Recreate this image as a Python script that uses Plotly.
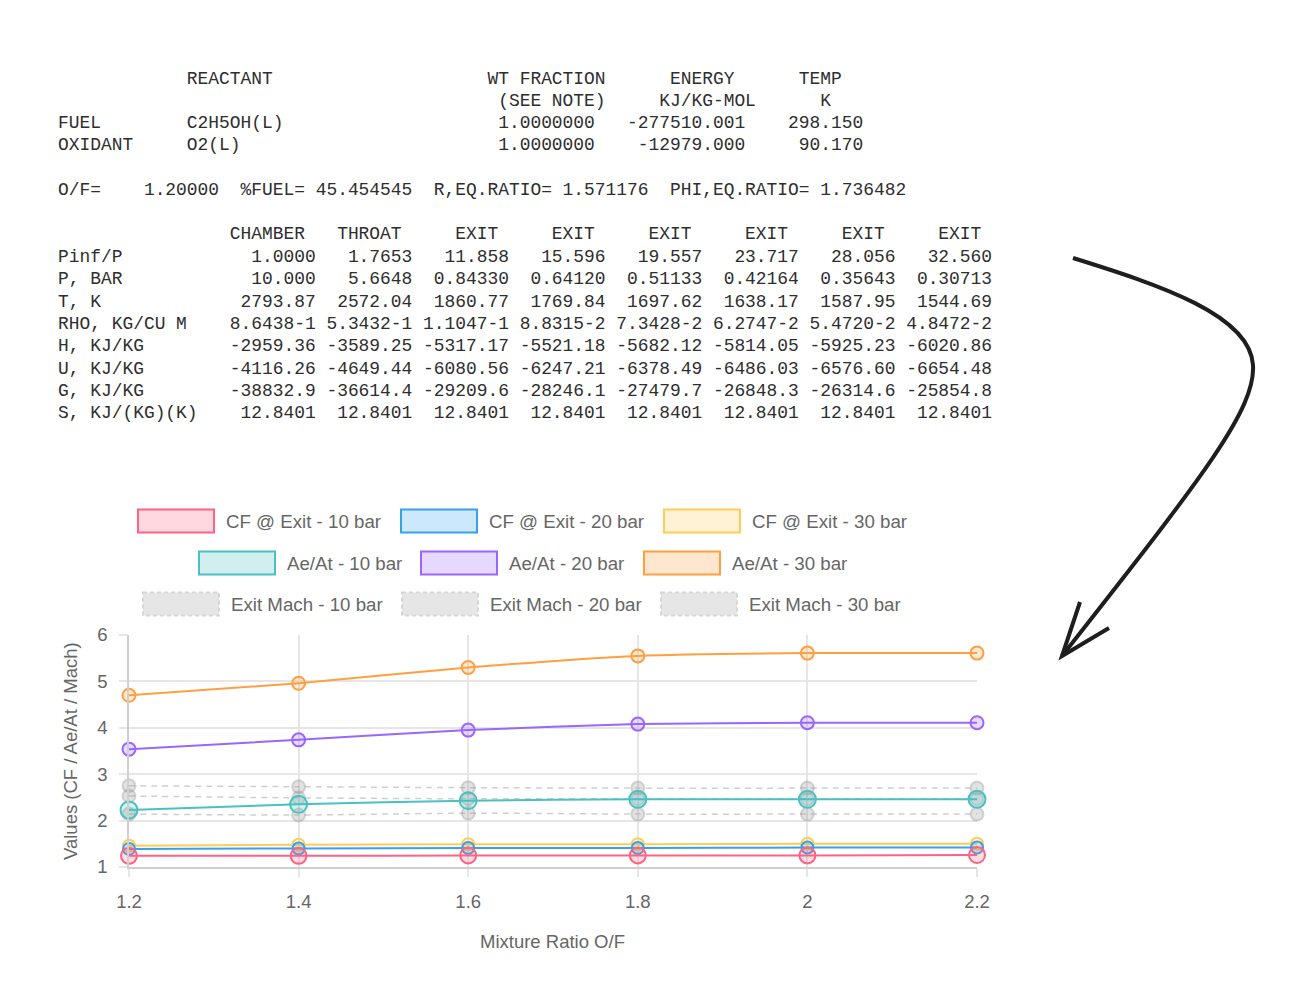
import plotly.graph_objects as go

# ---------------- text block (CEA output) ----------------
reactant_roles = ["FUEL", "OXIDANT"]
reactant_names = ["C2H5OH(L)", "O2(L)"]
wt_fractions = ["1.0000000", "1.0000000"]
energies = ["-277510.001", "-12979.000"]
temps = ["298.150", "90.170"]

of_labels = ["O/F=", "%FUEL=", "R,EQ.RATIO=", "PHI,EQ.RATIO="]
of_values = ["1.20000", "45.454545", "1.571176", "1.736482"]

table_columns = ["CHAMBER", "THROAT", "EXIT", "EXIT", "EXIT", "EXIT", "EXIT", "EXIT"]
row_pinf_p = ["1.0000", "1.7653", "11.858", "15.596", "19.557", "23.717", "28.056", "32.560"]
row_p_bar = ["10.000", "5.6648", "0.84330", "0.64120", "0.51133", "0.42164", "0.35643", "0.30713"]
row_t_k = ["2793.87", "2572.04", "1860.77", "1769.84", "1697.62", "1638.17", "1587.95", "1544.69"]
row_rho = ["8.6438-1", "5.3432-1", "1.1047-1", "8.8315-2", "7.3428-2", "6.2747-2", "5.4720-2", "4.8472-2"]
row_h = ["-2959.36", "-3589.25", "-5317.17", "-5521.18", "-5682.12", "-5814.05", "-5925.23", "-6020.86"]
row_u = ["-4116.26", "-4649.44", "-6080.56", "-6247.21", "-6378.49", "-6486.03", "-6576.60", "-6654.48"]
row_g = ["-38832.9", "-36614.4", "-29209.6", "-28246.1", "-27479.7", "-26848.3", "-26314.6", "-25854.8"]
row_s = ["12.8401", "12.8401", "12.8401", "12.8401", "12.8401", "12.8401", "12.8401", "12.8401"]
table_row_labels = ["Pinf/P", "P, BAR", "T, K", "RHO, KG/CU M", "H, KJ/KG", "U, KJ/KG", "G, KJ/KG", "S, KJ/(KG)(K)"]
table_rows = [row_pinf_p, row_p_bar, row_t_k, row_rho, row_h, row_u, row_g, row_s]

# ---------------- chart data ----------------
mixture_ratio = [1.2, 1.4, 1.6, 1.8, 2.0, 2.2]
x_tick_text = ["1.2", "1.4", "1.6", "1.8", "2", "2.2"]

cf_exit_10 = [1.24, 1.24, 1.25, 1.25, 1.25, 1.26]
cf_exit_20 = [1.39, 1.40, 1.41, 1.41, 1.42, 1.42]
cf_exit_30 = [1.46, 1.48, 1.49, 1.49, 1.50, 1.50]
ae_at_10 = [2.23, 2.35, 2.43, 2.46, 2.46, 2.46]
ae_at_20 = [3.54, 3.74, 3.95, 4.08, 4.11, 4.11]
ae_at_30 = [4.70, 4.96, 5.30, 5.55, 5.61, 5.61]
mach_10 = [2.14, 2.12, 2.16, 2.14, 2.14, 2.14]
mach_20 = [2.53, 2.49, 2.47, 2.47, 2.47, 2.47]
mach_30 = [2.75, 2.73, 2.71, 2.70, 2.70, 2.70]

series_names = ["CF @ Exit - 10 bar", "CF @ Exit - 20 bar", "CF @ Exit - 30 bar",
                "Ae/At - 10 bar", "Ae/At - 20 bar", "Ae/At - 30 bar",
                "Exit Mach - 10 bar", "Exit Mach - 20 bar", "Exit Mach - 30 bar"]
series_values = [cf_exit_10, cf_exit_20, cf_exit_30, ae_at_10, ae_at_20, ae_at_30,
                 mach_10, mach_20, mach_30]

# ---------------- styles ----------------
line_colors = ["#FF6384", "#36A2EB", "#FFCD56", "#4BC0C0", "#9966FF", "#FF9F40",
               "#CFCFCF", "#CFCFCF", "#CFCFCF"]
fill_colors = ["rgba(255,99,132,0.22)", "rgba(54,162,235,0.22)", "rgba(255,205,86,0.22)",
               "rgba(75,192,192,0.22)", "rgba(153,102,255,0.22)", "rgba(255,159,64,0.22)",
               "rgba(150,150,150,0.28)", "rgba(150,150,150,0.28)", "rgba(150,150,150,0.28)"]
marker_lines = line_colors[:6] + ["rgba(150,150,150,0.35)"] * 3
marker_sizes = [16, 12, 12, 17, 13, 13, 13, 13, 13]

W, H = 1273, 982
ML, MR, MT, MB = 121, 304, 627, 123
PW, PH = W - ML - MR, H - MT - MB


def px(X):
    return (X - 8 - ML) / PW


def py(Y):
    return 1 - (Y - 8 - MT) / PH


fig = go.Figure()

draw_order = [6, 7, 8, 5, 4, 3, 2, 1, 0]
for i in draw_order:
    is_mach = i >= 6
    fig.add_trace(go.Scatter(
        x=mixture_ratio, y=series_values[i], name=series_names[i],
        mode="lines+markers",
        line=dict(color=line_colors[i], width=1.5 if is_mach else 2,
                  dash="6px,5px" if is_mach else "solid",
                  shape="spline", smoothing=0.6),
        marker=dict(size=marker_sizes[i], color=fill_colors[i],
                    line=dict(color=marker_lines[i], width=2)),
        cliponaxis=False, showlegend=False,
    ))

annotations = []
shapes = []

# ---- monospace text block ----
def place(items, width=90):
    chars = [" "] * width
    for col, txt in items:
        for k, ch in enumerate(txt):
            chars[col + k] = ch
    return "".join(chars).rstrip()


text_lines = []
text_lines.append((79, place([(12, "REACTANT"), (40, "WT FRACTION"), (57, "ENERGY"), (69, "TEMP")])))
text_lines.append((101, place([(41, "(SEE NOTE)"), (56, "KJ/KG-MOL"), (71, "K")])))
for j, yy in enumerate([123, 145]):
    text_lines.append((yy, place([(0, reactant_roles[j]), (12, reactant_names[j]), (41, wt_fractions[j]),
                                  (64 - len(energies[j]), energies[j]), (75 - len(temps[j]), temps[j])])))
of_line = f"{of_labels[0]}{of_values[0]:>11}" + "".join(
    f"  {lab} {val}" for lab, val in zip(of_labels[1:], of_values[1:]))
text_lines.append((190, of_line))
text_lines.append((234, " " * 15 + "".join(h.rjust(8) + " " for h in table_columns).rstrip()))
for r, (lab, vals) in enumerate(zip(table_row_labels, table_rows)):
    text_lines.append((257 + r * 22.3, lab.ljust(15) + "".join(v.rjust(9) for v in vals)))

for yy, txt in text_lines:
    annotations.append(dict(
        x=px(56), y=py(yy), xref="paper", yref="paper", xanchor="left", yanchor="middle",
        text=txt.replace(" ", "\u00a0"), showarrow=False,
        font=dict(family="Liberation Mono, Courier New, monospace", size=17.9, color="#2e2e2e"),
    ))

# ---- custom legend (Chart.js style) ----
legend_boxes = [(138, 521), (401, 521), (664, 521),
                (199, 563), (421, 563), (644, 563),
                (143, 604), (402, 604), (661, 604)]
legend_fill = ["rgba(255,99,132,0.25)", "rgba(54,162,235,0.25)", "rgba(255,205,86,0.25)",
               "rgba(75,192,192,0.25)", "rgba(153,102,255,0.25)", "rgba(255,159,64,0.25)",
               "#E6E6E6", "#E6E6E6", "#E6E6E6"]
for i, (bx, by) in enumerate(legend_boxes):
    shapes.append(dict(type="rect", xref="paper", yref="paper",
                       x0=px(bx), x1=px(bx + 76), y0=py(by - 11.5), y1=py(by + 11.5),
                       fillcolor=legend_fill[i],
                       line=dict(color=line_colors[i] if i < 6 else "#D6D6D6", width=2,
                                 dash="solid" if i < 6 else "4px,3px")))
    annotations.append(dict(x=px(bx + 86), y=py(by), xref="paper", yref="paper",
                            xanchor="left", yanchor="middle", text=series_names[i],
                            showarrow=False,
                            font=dict(family="Liberation Sans, Arial", size=18.7, color="#666666")))

# ---- axis titles ----
annotations.append(dict(x=px(552), y=py(941), xref="paper", yref="paper", xanchor="center",
                        yanchor="middle", text="Mixture Ratio O/F", showarrow=False,
                        font=dict(family="Liberation Sans, Arial", size=18.5, color="#666666")))
annotations.append(dict(x=px(70), y=py(751), xref="paper", yref="paper", xanchor="center",
                        yanchor="middle", text="Values (CF / Ae/At / Mach)", textangle=-90,
                        showarrow=False,
                        font=dict(family="Liberation Sans, Arial", size=18.5, color="#666666")))

# ---- hand-drawn arrow ----
def pt(X, Y):
    return f"{px(X)},{py(Y)}"


shapes.append(dict(type="path", xref="paper", yref="paper",
                   path=f"M {pt(1073, 258)} C {pt(1160, 285)} {pt(1250, 315)} {pt(1253, 365)} "
                        f"C {pt(1256, 410)} {pt(1200, 480)} {pt(1062, 656)}",
                   line=dict(color="#1e1e1e", width=4)))
shapes.append(dict(type="path", xref="paper", yref="paper",
                   path=f"M {pt(1080, 602)} L {pt(1062, 656)} L {pt(1109, 628)}",
                   line=dict(color="#1e1e1e", width=4)))

fig.update_layout(
    width=W, height=H,
    margin=dict(l=ML, r=MR, t=MT, b=MB),
    paper_bgcolor="white", plot_bgcolor="white",
    showlegend=False,
    annotations=annotations, shapes=shapes,
    font=dict(family="Liberation Sans, Arial", size=18.5, color="#666666"),
    xaxis=dict(range=[mixture_ratio[0], mixture_ratio[-1]], tickvals=mixture_ratio,
               ticktext=x_tick_text, showgrid=True, gridcolor="#E6E6E6", gridwidth=1.5,
               showline=True, linecolor="#CFCFCF", linewidth=1.5,
               ticks="outside", ticklen=8, tickcolor="#E6E6E6", tickwidth=1.5,
               ticklabelstandoff=9, zeroline=False,
               tickfont=dict(size=18.5, color="#666666")),
    yaxis=dict(range=[1, 6], dtick=1, showgrid=True, gridcolor="#E6E6E6", gridwidth=1.5,
               showline=True, linecolor="#CFCFCF", linewidth=1.5,
               ticks="outside", ticklen=8, tickcolor="#E6E6E6", tickwidth=1.5,
               ticklabelstandoff=8, zeroline=False,
               tickfont=dict(size=18.5, color="#666666")),
)

fig.write_html("out.html")
